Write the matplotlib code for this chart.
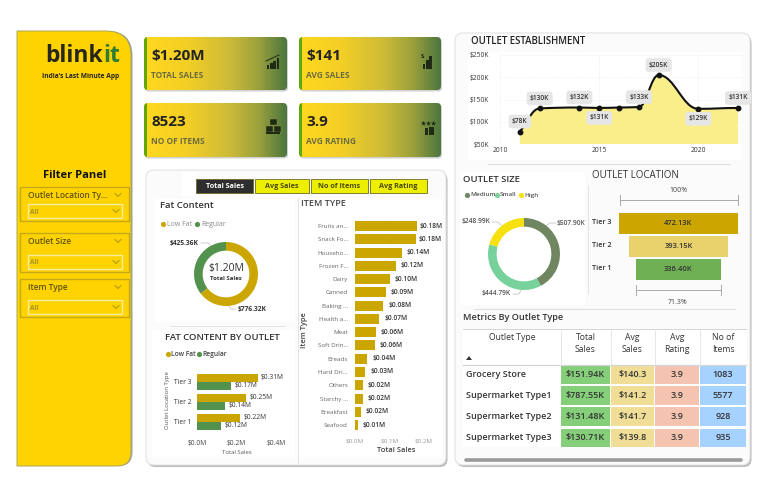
from matplotlib import pyplot as plt
from matplotlib.colors import LinearSegmentedColormap
from matplotlib.patches import FancyBboxPatch, PathPatch, Polygon, Rectangle
from matplotlib.path import Path
import numpy as np

plt.rcParams['font.family'] = ['Open Sans', 'DejaVu Sans']

W, H = 768, 492

# data
kpi_values = ["$1.20M", "$141", "8523", "3.9"]
kpi_names = ["TOTAL SALES", "AVG SALES", "NO OF ITEMS", "AVG RATING"]
filter_names = ["Outlet Location Ty...", "Outlet Size", "Item Type"]
tab_names = ["Total Sales", "Avg Sales", "No of Items", "Avg Rating"]

fat_names = ["Low Fat", "Regular"]
fat_sales = [776.32, 425.36]

tiers = ["Tier 3", "Tier 2", "Tier 1"]
tier_low_fat = [0.31, 0.25, 0.22]
tier_regular = [0.17, 0.14, 0.12]

item_names = ["Fruits an...", "Snack Fo...", "Househo...", "Frozen F...", "Dairy", "Canned",
              "Baking ...", "Health a...", "Meat", "Soft Drin...", "Breads", "Hard Dri...",
              "Others", "Starchy ...", "Breakfast", "Seafood"]
item_sales = [0.18, 0.176, 0.136, 0.118, 0.10, 0.09, 0.082, 0.071,
              0.06, 0.058, 0.036, 0.03, 0.023, 0.023, 0.016, 0.008]

years = [2011, 2012, 2014, 2015, 2016, 2017, 2018, 2020, 2022]
year_sales = [78, 130, 132, 131, 132, 133, 205, 129, 131]
year_labels = [78, 130, 132, 131, None, 133, 205, 129, 131]
year_label_side = [1, 1, 1, -1, 1, 1, 1, -1, 1]

size_names = ["Medium", "Small", "High"]
size_sales = [507.90, 444.79, 248.99]

funnel_tiers = ["Tier 3", "Tier 2", "Tier 1"]
funnel_sales = [472.13, 393.15, 336.40]

table_header = [["Total", "Sales"], ["Avg", "Sales"], ["Avg", "Rating"], ["No of", "Items"]]
outlet_types = ["Grocery Store", "Supermarket Type1", "Supermarket Type2", "Supermarket Type3"]
table_total = ["$151.94K", "$787.55K", "$131.48K", "$130.71K"]
table_avg = ["$140.3", "$141.2", "$141.7", "$139.8"]
table_rating = ["3.9", "3.9", "3.9", "3.9"]
table_items = ["1083", "5577", "928", "935"]

GOLD = "#CBA600"
GREEN = "#52924C"
DARK = "#2B2B2B"

fig = plt.figure(figsize=(W / 100, H / 100), dpi=100, facecolor="white")
bg = fig.add_axes([0, 0, 1, 1], zorder=0)
bg.set_xlim(0, W)
bg.set_ylim(H, 0)
bg.axis("off")


def px_axes(left, top, right, bottom):
    ax = fig.add_axes([left / W, 1 - bottom / H, (right - left) / W, (bottom - top) / H], zorder=2)
    ax.patch.set_visible(False)
    return ax


def txt(x, y, s, size=6, color=DARK, ha="left", weight="normal", **kw):
    return bg.text(x, y, s, fontsize=size, color=color, ha=ha, va="center", fontweight=weight, **kw)


def panel(x0, y0, x1, y1, radius=8, face="#FBFBFB", edge="#E2E2E2"):
    bg.add_patch(FancyBboxPatch((x0 + 1.5, y0 + 2), x1 - x0, y1 - y0, boxstyle=f"round,pad=0,rounding_size={radius}",
                                fc="#B9B9B9", ec="none"))
    p = FancyBboxPatch((x0, y0), x1 - x0, y1 - y0, boxstyle=f"round,pad=0,rounding_size={radius}",
                       fc=face, ec=edge, lw=0.8)
    bg.add_patch(p)
    return p


def rect(x0, y0, x1, y1, fc, ec="none", lw=0.6, **kw):
    r = Rectangle((x0, y0), x1 - x0, y1 - y0, fc=fc, ec=ec, lw=lw, **kw)
    bg.add_patch(r)
    return r


def chevron(x, y, color="#A8961A", s=3):
    bg.plot([x - s, x, x + s], [y - s / 2, y + s / 2, y - s / 2], color=color, lw=0.7)


# left yellow panel
def left_panel(dx, color):
    verts = [(17 + dx, 31), (106 + dx, 31), (131 + dx, 31), (131 + dx, 56), (131 + dx, 452), (131 + dx, 466),
             (117 + dx, 466), (17 + dx, 466), (17 + dx, 31)]
    codes = [Path.MOVETO, Path.LINETO, Path.CURVE3, Path.CURVE3, Path.LINETO, Path.CURVE3, Path.CURVE3,
             Path.LINETO, Path.CLOSEPOLY]
    bg.add_patch(PathPatch(Path(verts, codes), fc=color, ec="none" if dx else "#A9A85A", lw=0.7))


left_panel(1.5, "#9DA3A0")
left_panel(0, "#FFD300")

txt(103, 56, "blink", 16.5, "#26261C", ha="right", weight="bold")
txt(103, 56, "it", 16.5, "#2E7D32", weight="bold")
txt(81, 76, "India's Last Minute App", 4.8, "#222222", ha="center", weight="bold")
txt(75, 175, "Filter Panel", 8, "#111111", ha="center", weight="bold")

filter_boxes = [(187, 221), (233, 272), (279, 317)]
for name, (y0, y1) in zip(filter_names, filter_boxes):
    rect(20, y0, 129, y1, "none", ec="#C4A815", lw=1)
    txt(28, y0 + 9, name, 6, "#5B5212", weight="semibold")
    chevron(118, y0 + 8)
    rect(28, y1 - 17, 122, y1 - 3, "none", ec="#F5EDA5", lw=1)
    txt(30, y1 - 9, "All", 4.8, "#A39322", weight="bold")
    chevron(116, y1 - 10)

# KPI cards
grad = LinearSegmentedColormap.from_list("kpi", [(0, "#FFD81E"), (0.3, "#F3CF26"), (0.6, "#CDBB38"),
                                                 (0.8, "#9CA13C"), (1, "#4C763F")])
gradient = np.linspace(0, 1, 256).reshape(1, -1)
cards = [(144, 37, 287, 90), (299, 37, 441, 90), (144, 103, 287, 157), (299, 103, 441, 157)]
for (x0, y0, x1, y1), val, name in zip(cards, kpi_values, kpi_names):
    bg.add_patch(FancyBboxPatch((x0 + 1, y0 + 1.5), x1 - x0, y1 - y0, boxstyle="round,pad=0,rounding_size=4",
                                fc="#D0D0D0", ec="none"))
    clip = FancyBboxPatch((x0, y0), x1 - x0, y1 - y0, boxstyle="round,pad=0,rounding_size=4",
                          fc="none", ec="none", transform=bg.transData)
    bg.add_patch(clip)
    im = bg.imshow(gradient, extent=[x0, x1, y1, y0], cmap=grad, aspect="auto", zorder=1)
    im.set_clip_path(clip)
    strip = rect(x0, y0, x0 + 3, y1, "#5FA80A", zorder=1.5)
    strip.set_clip_path(clip)
    txt(x0 + 7, y0 + 19, val, 11, "#232323", weight="bold", zorder=3)
    txt(x0 + 7, y0 + 39, name, 6, "#6B6B42", weight="bold", zorder=3)
bg.set_xlim(0, W)
bg.set_ylim(H, 0)

# KPI icons
for x, y, hs in [(267, 69, [4, 6, 8, 11]), (423, 69, [5, 9, 13])]:
    for i, h in enumerate(hs):
        rect(x + i * 3.2, y - h, x + i * 3.2 + 2.3, y, "#1E2A14", zorder=3)
bg.plot([266, 279], [61, 55], color="#1E2A14", lw=0.7, zorder=3)
txt(421, 57, "$", 4.5, "#1E2A14", weight="bold", zorder=3)
for bx, by in [(269, 129), (277, 129), (273, 122)]:
    rect(bx - 3.5, by - 3, bx + 3.5, by + 3, "#1E2A14", ec="#8C9A3E", lw=0.3, zorder=3)
rect(266, 132, 280, 134, "#1E2A14", zorder=3)
for sx in [423, 428, 433]:
    bg.scatter(sx, 123, marker="*", s=16, color="#1E2A14", lw=0, zorder=3)
rect(425, 128, 428, 135, "#1E2A14", zorder=3)
rect(429, 127, 434, 135, "#1E2A14", zorder=3)

# middle panel
panel(146, 170, 446, 465)
rect(155, 199, 295, 322, "white")
rect(152, 330, 295, 458, "white")
rect(300, 198, 442, 458, "white")
bg.plot([298, 298], [198, 463], color="#E4E4E4", lw=0.7)
bg.plot([170, 285], [326, 326], color="#E4E4E4", lw=0.7)
rect(182, 172, 196, 196, "white")

tab_x = [(196, 253), (255, 309), (311, 368), (370, 427)]
for i, (name, (x0, x1)) in enumerate(zip(tab_names, tab_x)):
    rect(x0, 179, x1, 193, "#2E2E2E" if i == 0 else "#EDEE00", ec="#6B6B20", lw=0.6)
    txt((x0 + x1) / 2, 186, name, 5.2, "white" if i == 0 else "#4A4A00", ha="center", weight="bold")

txt(160, 206, "Fat Content", 6.8, "#333333", weight="semibold")
for x, c, name in [(163, GOLD, fat_names[0]), (197, GREEN, fat_names[1])]:
    bg.scatter(x, 224, s=14, color=c, lw=0)
    txt(x + 4, 224, name, 5, "#8A8A8A")

ax = px_axes(194, 242, 258, 306)
ax.pie(fat_sales, colors=[GOLD, GREEN], startangle=90, counterclock=False, radius=1,
       wedgeprops=dict(width=0.27))
ax.set_xlim(-1, 1)
ax.set_ylim(-1, 1)
txt(226, 269, "$1.20M", 7.5, "#333333", ha="center")
txt(226, 278, "Total Sales", 4.3, "#333333", ha="center", weight="bold")
txt(199, 243, f"${fat_sales[1]:.2f}K", 4.8, "#333333", ha="right", weight="bold")
bg.plot([201, 208, 210], [243, 243, 245], color="#BBBBBB", lw=0.5)
txt(238, 309, f"${fat_sales[0]:.2f}K", 4.8, "#333333", weight="bold")
bg.plot([228, 231, 236], [305, 309, 309], color="#BBBBBB", lw=0.5)

txt(165, 337, "FAT CONTENT BY OUTLET", 6.8, "#333333", weight="semibold")
for x, c, name in [(168, GOLD, fat_names[0]), (199, GREEN, fat_names[1])]:
    bg.scatter(x, 354, s=14, color=c, lw=0)
    txt(x + 3, 354, name, 4.8, "#444444", weight="semibold")

ax = px_axes(197, 372, 276, 432)
ypos = np.arange(len(tiers))
ax.barh(ypos - 0.2, tier_low_fat, 0.4, color=GOLD)
ax.barh(ypos + 0.2, tier_regular, 0.4, color=GREEN)
for i in ypos:
    ax.annotate(f"${tier_low_fat[i]:.2f}M", (tier_low_fat[i], i - 0.2), xytext=(2, 0), textcoords="offset points",
                fontsize=4.8, color="#333333", va="center", annotation_clip=False)
    ax.annotate(f"${tier_regular[i]:.2f}M", (tier_regular[i], i + 0.2), xytext=(3, 0), textcoords="offset points",
                fontsize=4.8, color="#333333", va="center", annotation_clip=False)
ax.set_xlim(0, 0.4)
ax.set_ylim(2.5, -0.5)
ax.set_yticks(ypos, tiers, fontsize=4.8, color="#333333")
ax.set_xticks([0, 0.2, 0.4], ["$0.0M", "$0.2M", "$0.4M"], fontsize=4.8, color="#444444")
ax.tick_params(length=0, pad=6)
ax.tick_params(axis="y", pad=4)
for s in ax.spines.values():
    s.set_visible(False)
txt(237, 452, "Total Sales", 4.3, "#555555", ha="center")
txt(168, 400, "Outlet Location Type", 4.3, "#555555", ha="center", rotation=90)

txt(301, 204, "ITEM TYPE", 6.5, "#444444", weight="semibold")
ax = px_axes(355, 219.4, 424, 431.7)
ypos = np.arange(len(item_names))
ax.barh(ypos, item_sales, 0.75, color=GOLD)
for i in ypos:
    ax.annotate(f"${item_sales[i]:.2f}M", (item_sales[i], i), xytext=(2 if i < 2 else 3.5, 0),
                textcoords="offset points", fontsize=4.8, color="#333333", va="center",
                fontweight="semibold", annotation_clip=False)
ax.set_xlim(0, 0.2)
ax.set_ylim(15.5, -0.5)
ax.set_yticks(ypos, item_names, fontsize=4.5, color="#666666")
ax.set_xticks([0, 0.1, 0.2], ["$0.0M", "$0.1M", "$0.2M"], fontsize=4.5, color="#999999")
ax.xaxis.grid(True, color="#EFEFEF", lw=0.5, ls=":")
ax.set_axisbelow(True)
ax.tick_params(length=0, pad=5)
for s in ax.spines.values():
    s.set_visible(False)
txt(396, 451, "Total Sales", 5.4, "#444444", ha="center", weight="semibold")
txt(305, 330, "Item Type", 5.4, "#444444", ha="center", rotation=90, weight="semibold")

# right panel
panel(455, 33, 750, 465)
rect(468, 52, 742, 160, "white")
rect(460, 172, 585, 305, "white")
bg.plot([488, 730], [164, 164], color="#DDDDDD", lw=0.7)
bg.plot([588, 588], [186, 293], color="#E4E4E4", lw=0.7)
bg.plot([474, 735], [309, 309], color="#DDDDDD", lw=0.7)

txt(471, 41, "OUTLET ESTABLISHMENT", 6.9, "#222222", weight="semibold")
ax = px_axes(500, 55, 743, 144)
xs = np.array(years, dtype=float)
ys = np.array(year_sales, dtype=float)
# monotone bezier through the points, like the smoothed line in the report
dx = np.diff(xs)
slopes = np.diff(ys) / dx
tang = np.zeros(len(xs))
for i in range(1, len(xs) - 1):
    if slopes[i - 1] * slopes[i] > 0:
        tang[i] = 2 * slopes[i - 1] * slopes[i] / (slopes[i - 1] + slopes[i])
tang[0] = slopes[0]
verts = [(xs[0], ys[0])]
codes = [Path.MOVETO]
for i in range(len(xs) - 1):
    verts += [(xs[i] + dx[i] / 2.5, ys[i] + tang[i] * dx[i] / 2.5),
              (xs[i + 1] - dx[i] / 2.5, ys[i + 1] - tang[i + 1] * dx[i] / 2.5),
              (xs[i + 1], ys[i + 1])]
    codes += [Path.CURVE4] * 3
fill_verts = verts + [(xs[-1], 50), (xs[0], 50), (xs[0], ys[0])]
fill_codes = codes + [Path.LINETO, Path.LINETO, Path.CLOSEPOLY]
ax.add_patch(PathPatch(Path(fill_verts, fill_codes), fc="#F9EE8A", ec="none"))
ax.add_patch(PathPatch(Path(verts, codes), fc="none", ec="#111111", lw=1.5))
ax.plot(xs, ys, "o", color="#111111", ms=3.2)
for x, y, lab, side in zip(years, year_sales, year_labels, year_label_side):
    if lab is None:
        continue
    ax.annotate(f"${lab}K", (x, y), xytext=(0, 7.2 * side), textcoords="offset points", ha="center", va="center",
                fontsize=4.8, color="#333333", fontweight="semibold",
                bbox=dict(boxstyle="round,pad=0.5", fc="#E6E6E6", ec="none"), annotation_clip=False)
ax.set_xlim(2010, 2022.25)
ax.set_ylim(50, 250)
ax.set_xticks([2010, 2015, 2020])
ax.set_yticks([50, 100, 150, 200, 250], [f"${v}K" for v in [50, 100, 150, 200, 250]])
ax.tick_params(length=0, labelsize=4.8, labelcolor="#333333", pad=2.5)
ax.tick_params(axis="y", pad=8)
ax.grid(True, color="#E6E6E6", lw=0.5, ls=":")
ax.set_axisbelow(True)
for s in ax.spines.values():
    s.set_visible(False)

txt(463, 179, "OUTLET SIZE", 6.8, "#333333", weight="semibold")
for x, c, name in [(467, "#6F8660", size_names[0]), (497, "#77D19A", size_names[1]), (521, "#F6E010", size_names[2])]:
    bg.scatter(x, 195, s=14, color=c, lw=0)
    txt(x + 3, 195, name, 4.6, "#555555", weight="semibold")
ax = px_axes(488, 218, 560, 290)
ax.pie(size_sales, colors=["#6F8660", "#77D19A", "#F6E010"], startangle=90, counterclock=False, radius=1,
       wedgeprops=dict(width=0.24))
ax.set_xlim(-1, 1)
ax.set_ylim(-1, 1)
txt(557, 223, f"${size_sales[0]:.2f}K", 4.8, "#555555", weight="semibold")
bg.plot([546, 550, 556], [226, 223, 223], color="#BBBBBB", lw=0.5)
txt(490, 222, f"${size_sales[2]:.2f}K", 4.8, "#555555", ha="right", weight="semibold")
bg.plot([492, 498, 501], [222, 222, 225], color="#BBBBBB", lw=0.5)
txt(511, 294, f"${size_sales[1]:.2f}K", 4.8, "#555555", ha="right", weight="semibold")
bg.plot([513, 519, 521], [294, 294, 290], color="#BBBBBB", lw=0.5)

txt(592, 175, "OUTLET LOCATION", 7, "#333333")
ax = px_axes(619, 212, 738, 281)
ypos = np.arange(len(funnel_tiers))
ax.barh(ypos, funnel_sales, 0.92, left=-np.array(funnel_sales) / 2, color=[GOLD, "#E8D06A", "#6FB055"])
for i in ypos:
    ax.text(0, i, f"{funnel_sales[i]:.2f}K", ha="center", va="center", fontsize=5.4, color="#333333",
            fontweight="semibold")
ax.set_xlim(-funnel_sales[0] / 2, funnel_sales[0] / 2)
ax.set_ylim(2.5, -0.5)
ax.axis("off")
for i, name in enumerate(funnel_tiers):
    txt(592, 222 + i * 23.3, name, 5.2, "#333333", weight="semibold")
txt(678, 190, "100%", 5, "#444444", ha="center")
bg.plot([620, 738], [200, 200], color="#AAAAAA", lw=0.7)
bg.plot([620, 620], [195, 205], color="#AAAAAA", lw=0.7)
bg.plot([738, 738], [195, 205], color="#AAAAAA", lw=0.7)
txt(678, 302, "71.3%", 5, "#444444", ha="center")
bg.plot([636, 721], [290, 290], color="#AAAAAA", lw=0.7)
bg.plot([636, 636], [285, 295], color="#AAAAAA", lw=0.7)
bg.plot([721, 721], [285, 295], color="#AAAAAA", lw=0.7)

# table
txt(463, 318, "Metrics By Outlet Type", 6.6, "#333333", weight="semibold")
rect(463, 329, 746, 447, "white")
bg.plot([463, 746], [329, 329], color="#D5D5D5", lw=0.7)
bg.plot([463, 746], [365, 365], color="#D5D5D5", lw=0.9)
col_x = [(561, 610), (611, 654), (655, 699), (700, 746)]
for x in [560.5, 610.5, 654.5, 699.5]:
    bg.plot([x, x], [329, 365], color="#E2E2E2", lw=0.6)
txt(512, 338, "Outlet Type", 6.2, "#333333", ha="center")
bg.add_patch(Polygon([(466, 360), (472, 360), (469, 356)], fc="#333333", ec="none"))
for (x0, x1), head in zip(col_x, table_header):
    txt((x0 + x1) / 2, 338, head[0], 6.2, "#333333", ha="center")
    txt((x0 + x1) / 2, 350, head[1], 6.2, "#333333", ha="center")

row_y = [(365, 384), (386, 405), (407, 426), (429, 447)]
col_colors = ["#86CF7A", "#F0DE96", "#F5C4B0", "#A6D2FF"]
columns = [table_total, table_avg, table_rating, table_items]
for r, (y0, y1) in enumerate(row_y):
    txt(466, (y0 + y1) / 2, outlet_types[r], 6.5, "#333333", weight="semibold")
    for (x0, x1), color, col in zip(col_x, col_colors, columns):
        rect(x0, y0, x1, y1, color)
        txt((x0 + x1) / 2, (y0 + y1) / 2, col[r], 6.5, "#333333", ha="center", weight="semibold")

bg.plot([466, 741], [459.5, 459.5], color="#9A9A9A", lw=2.6, solid_capstyle="round")

fig.savefig("out.png", dpi=100)
